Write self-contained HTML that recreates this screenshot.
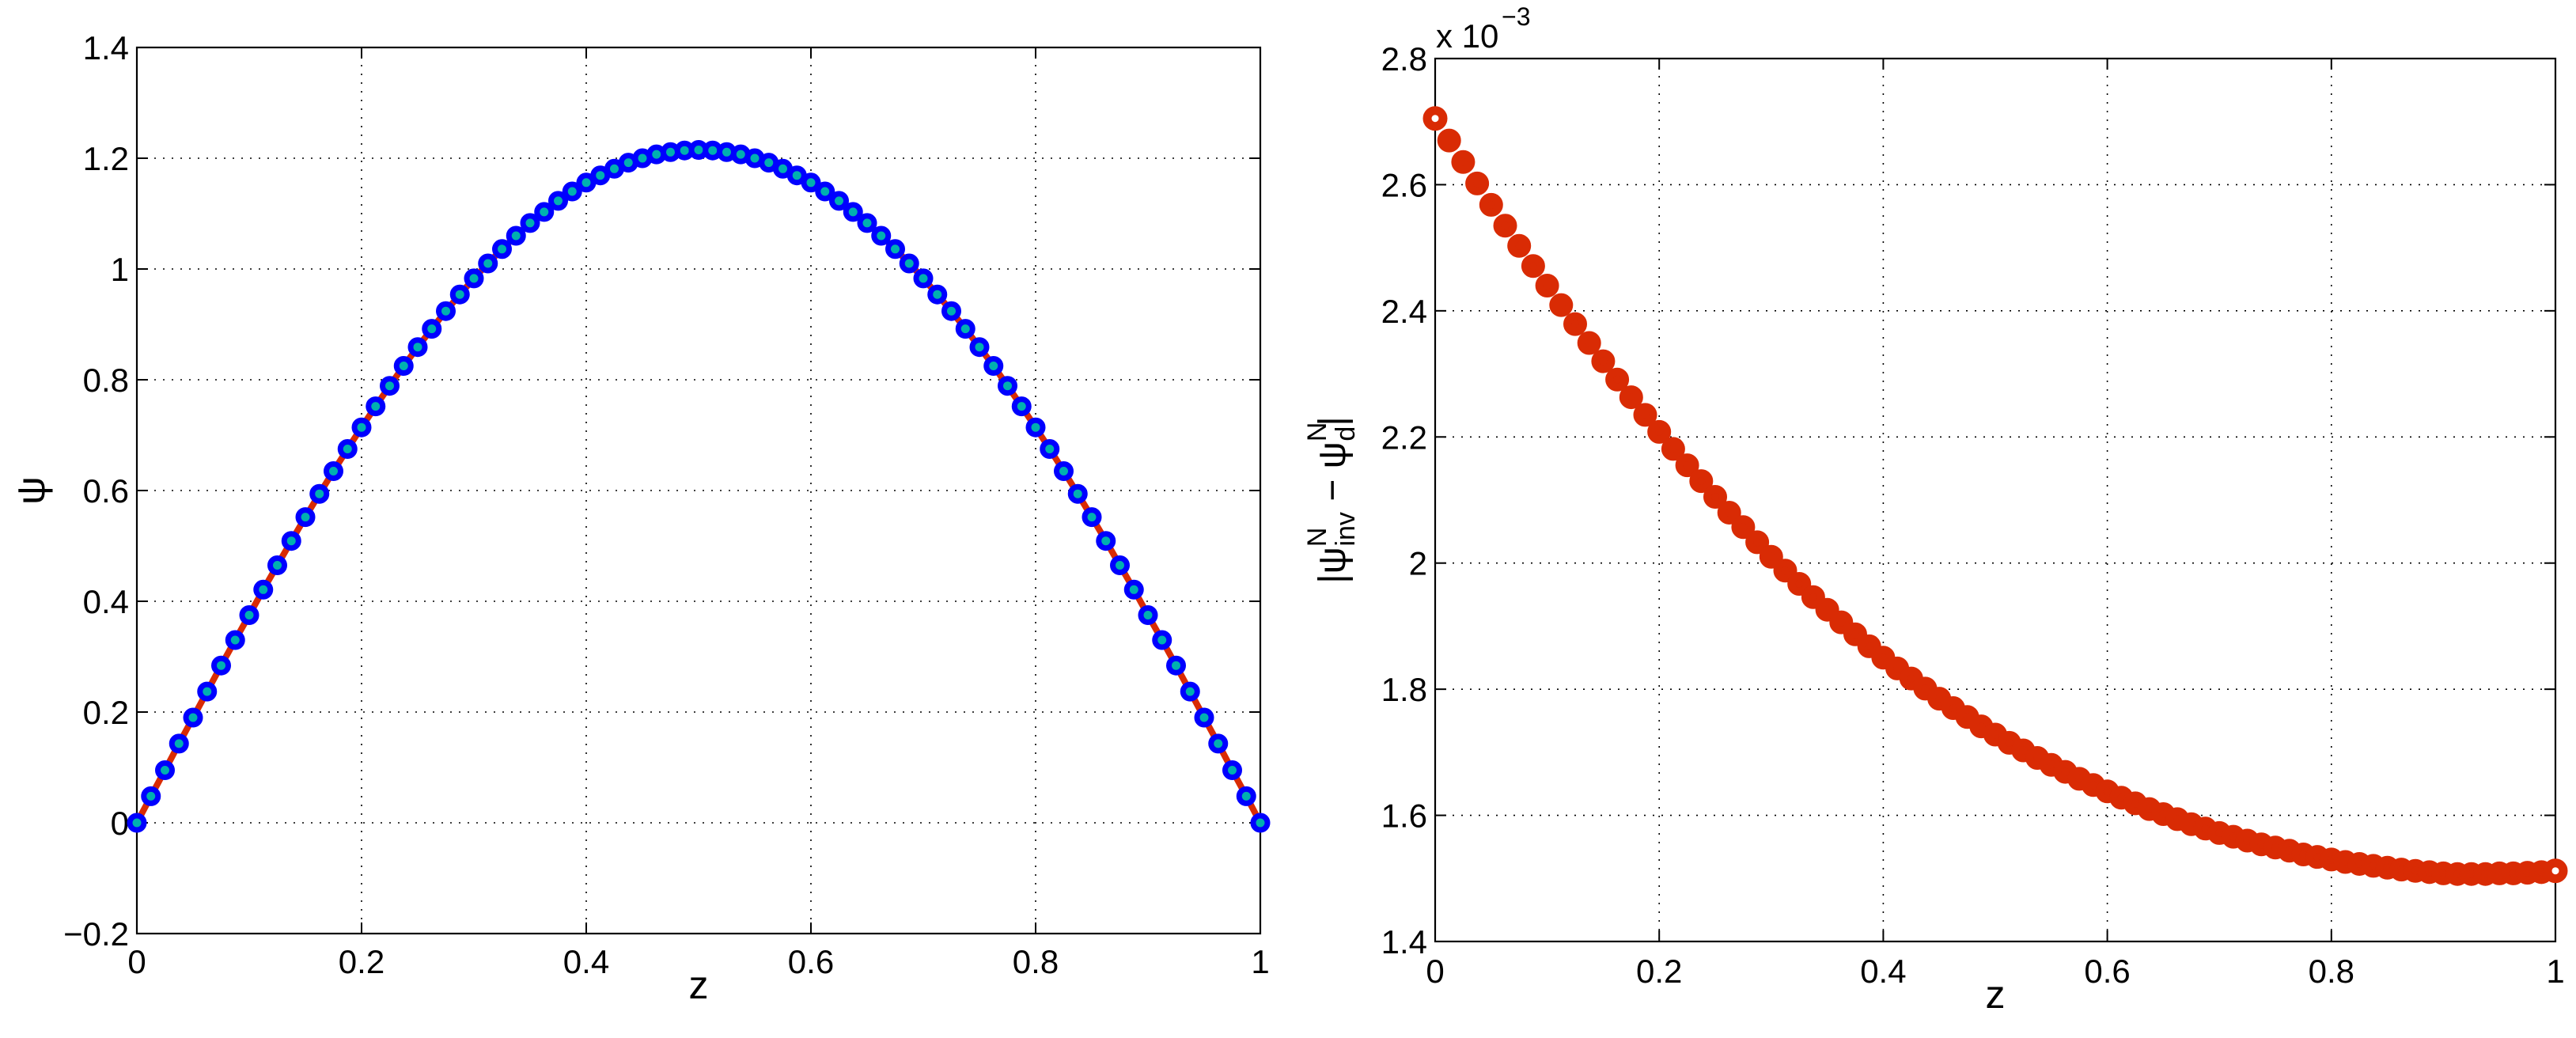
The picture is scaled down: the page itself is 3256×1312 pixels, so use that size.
<!DOCTYPE html>
<html>
<head>
<meta charset="utf-8">
<style>
  html, body { margin:0; padding:0; background:#fff; }
  svg { display:block; }
  text { font-family: "Liberation Sans", "DejaVu Sans", sans-serif; fill:#000; }
</style>
</head>
<body>
<svg id="fig" width="3256" height="1312" viewBox="0 0 3256 1312" xmlns="http://www.w3.org/2000/svg">
  <rect x="0" y="0" width="3256" height="1312" fill="#fff"/>
  <g id="left"></g>
  <g id="right"></g>
</svg>
<script>
// ---------- data ----------
const leftZ = [];  // 81 sample positions along z (0..1)
const psiValues = [0,0.048,0.095,0.143,0.190,0.237,0.284,0.330,0.375,0.421,0.465,0.509,0.552,0.594,0.635,0.675,0.714,0.752,0.789,0.825,0.859,0.892,0.924,0.954,0.983,1.010,1.036,1.060,1.083,1.103,1.123,1.140,1.156,1.169,1.181,1.192,1.200,1.207,1.211,1.214,1.215,1.214,1.211,1.207,1.200,1.192,1.181,1.169,1.156,1.140,1.123,1.103,1.083,1.060,1.036,1.010,0.983,0.954,0.924,0.892,0.859,0.825,0.789,0.752,0.714,0.675,0.635,0.594,0.552,0.509,0.465,0.421,0.375,0.330,0.284,0.237,0.190,0.143,0.095,0.048,0];
const errValues = [2.705,2.670,2.636,2.602,2.568,2.535,2.503,2.471,2.440,2.409,2.379,2.349,2.320,2.291,2.263,2.235,2.208,2.181,2.155,2.130,2.105,2.080,2.057,2.033,2.010,1.988,1.967,1.946,1.926,1.906,1.887,1.868,1.850,1.833,1.817,1.801,1.785,1.770,1.756,1.741,1.728,1.715,1.703,1.691,1.680,1.669,1.658,1.648,1.638,1.628,1.619,1.610,1.602,1.594,1.586,1.579,1.572,1.566,1.560,1.554,1.549,1.544,1.538,1.534,1.530,1.526,1.523,1.520,1.517,1.514,1.512,1.510,1.508,1.507,1.507,1.507,1.508,1.508,1.509,1.510,1.512];
const xTicks = [0,0.2,0.4,0.6,0.8,1];
const xTickLabels = ["0","0.2","0.4","0.6","0.8","1"];
const leftYTicks = [-0.2,0,0.2,0.4,0.6,0.8,1,1.2,1.4];
const leftYTickLabels = ["\u22120.2","0","0.2","0.4","0.6","0.8","1","1.2","1.4"];
const rightYTicks = [1.4,1.6,1.8,2,2.2,2.4,2.6,2.8];
const rightYTickLabels = ["1.4","1.6","1.8","2","2.2","2.4","2.6","2.8"];
for (let i = 0; i <= 80; i++) leftZ.push(i / 80);

const NS = "http://www.w3.org/2000/svg";
function mk(parent, tag, attrs) {
  const e = document.createElementNS(NS, tag);
  for (const k in attrs) e.setAttribute(k, attrs[k]);
  parent.appendChild(e);
  return e;
}

function drawAxes(g, box, xmin, xmax, ymin, ymax, yTicks, yLabels, prefix, xLabelBase) {
  const sx = v => box.x0 + (v - xmin) / (xmax - xmin) * (box.x1 - box.x0);
  const sy = v => box.y1 - (v - ymin) / (ymax - ymin) * (box.y1 - box.y0);
  xTicks.forEach((t, i) => {
    const X = sx(t);
    if (i > 0 && i < xTicks.length - 1) {
      const gl = mk(g, "line", {x1:X, y1:box.y0, x2:X, y2:box.y1, stroke:"#000", "stroke-width":1.6, "stroke-dasharray":"2 9"});
      
      
    }
    const tk1 = mk(g, "line", {x1:X, y1:box.y1, x2:X, y2:box.y1 - 14, stroke:"#000", "stroke-width":2});
    
    
    const tk2 = mk(g, "line", {x1:X, y1:box.y0, x2:X, y2:box.y0 + 14, stroke:"#000", "stroke-width":2});
    
    
    const tl = mk(g, "text", {x:X, y:xLabelBase, "font-size":42, "text-anchor":"middle"});
    tl.textContent = xTickLabels[i];
    
    
  });
  yTicks.forEach((t, i) => {
    const Y = sy(t);
    if (i > 0 && i < yTicks.length - 1) {
      const gl = mk(g, "line", {x1:box.x0, y1:Y, x2:box.x1, y2:Y, stroke:"#000", "stroke-width":1.6, "stroke-dasharray":"2 9"});
      
      
    }
    const tk1 = mk(g, "line", {x1:box.x0, y1:Y, x2:box.x0 + 14, y2:Y, stroke:"#000", "stroke-width":2});
    
    
    const tk2 = mk(g, "line", {x1:box.x1, y1:Y, x2:box.x1 - 14, y2:Y, stroke:"#000", "stroke-width":2});
    
    
    const tl = mk(g, "text", {x:box.x0 - 10, y:Y + 15, "font-size":42, "text-anchor":"end"});
    tl.textContent = yLabels[i];
    
    
  });
  const fr = mk(g, "rect", {x:box.x0, y:box.y0, width:box.x1 - box.x0, height:box.y1 - box.y0, fill:"none", stroke:"#000", "stroke-width":2.2});
  
  
  return {sx, sy};
}

// ---------- left plot ----------
const L = document.getElementById("left");
const lb = {x0:173, x1:1593, y0:60, y1:1180};
const la = drawAxes(L, lb, 0, 1, -0.2, 1.4, leftYTicks, leftYTickLabels, "left", 1230);
let d = "";
leftZ.forEach((z, i) => { d += (i ? "L" : "M") + la.sx(z).toFixed(1) + " " + la.sy(psiValues[i]).toFixed(1); });
const pl = mk(L, "path", {d:d, fill:"none", stroke:"#d92b04", "stroke-width":8, "stroke-linejoin":"round"});


leftZ.forEach((z, i) => {
  const c = mk(L, "circle", {cx:la.sx(z), cy:la.sy(psiValues[i]), r:9, fill:"#00b0b0", stroke:"#0000ff", "stroke-width":7});
  
  
});
const lx = mk(L, "text", {x:883, y:1262, "font-size":50, "text-anchor":"middle"});
lx.textContent = "z";


const ly = mk(L, "text", {x:0, y:0, "font-size":50, "text-anchor":"middle", transform:"translate(56 620) rotate(-90)"});
ly.textContent = "\u03C8";



// ---------- right plot ----------
const R = document.getElementById("right");
const rb = {x0:1814, x1:3230, y0:74, y1:1190};
const ra = drawAxes(R, rb, 0, 1, 1.4, 2.8, rightYTicks, rightYTickLabels, "right", 1242);
const lastIdx = leftZ.length - 1;
leftZ.forEach((z, i) => {
  const isEnd = (i === 0 || i === lastIdx);
  const c = mk(R, "circle", {cx:ra.sx(z), cy:ra.sy(errValues[i]), r:10, fill:isEnd ? "#fff" : "#d92b04", stroke:"#d92b04", "stroke-width":isEnd ? 11 : 10});
  
  
});
const rx = mk(R, "text", {x:2522, y:1274, "font-size":50, "text-anchor":"middle"});
rx.textContent = "z";


const mult = mk(R, "text", {x:1815, y:60, "font-size":42});
mult.textContent = "x 10";


const mexp = mk(R, "text", {x:1898, y:32, "font-size":32});
mexp.textContent = "\u22123";


</script>
<svg style="position:absolute;left:0;top:0" width="3256" height="1312">
  <g transform="translate(1700 632) rotate(-90)">
    <text x="0" y="0" text-anchor="middle" font-size="48" font-family="Liberation Sans, DejaVu Sans, sans-serif">|&#968;<tspan font-size="34" dy="-24">N</tspan><tspan font-size="34" dx="-24" dy="36">inv</tspan><tspan dy="-12"> &#8722; &#968;</tspan><tspan font-size="34" dy="-24">N</tspan><tspan font-size="34" dx="-24" dy="36">d</tspan><tspan dy="-12">|</tspan></text>
  </g>
</svg>
</body>
</html>
